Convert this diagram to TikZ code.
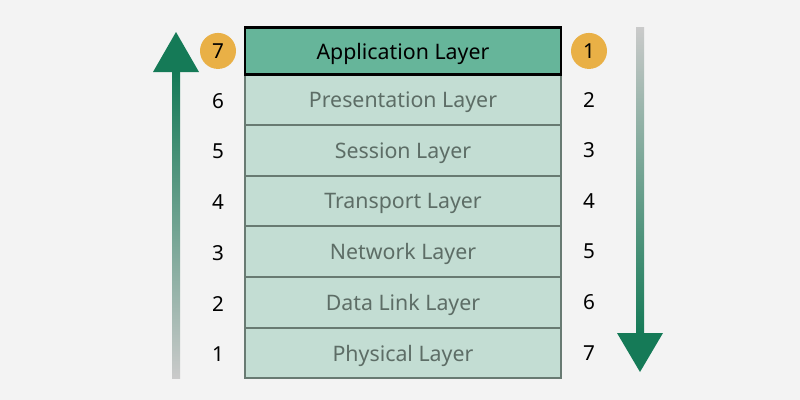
\documentclass[tikz,border=0pt]{standalone}
\usepackage{fontspec}
\setmainfont{Noto Sans}
\usetikzlibrary{positioning}
\definecolor{bgcol}{HTML}{F3F3F3}
\definecolor{appgreen}{HTML}{66B59A}
\definecolor{layerfill}{HTML}{C3DDD3}
\definecolor{layerline}{HTML}{687A72}
\definecolor{layertext}{HTML}{5D6D66}
\definecolor{arrowgreen}{HTML}{157A57}
\definecolor{fadegrey}{HTML}{CACACA}
\definecolor{badgeorange}{HTML}{E9B046}
\tikzset{
  layerbox/.style={rectangle,draw=layerline,line width=1.5pt,fill=layerfill,text=layertext,
    minimum width=237pt,minimum height=38pt,outer sep=0pt,text depth=0pt,
    font=\fontsize{16}{19}\selectfont},
  appbox/.style={layerbox,draw=black,line width=2.2pt,fill=appgreen,text=black,minimum height=35pt},
  num/.style={font=\fontsize{15.5}{18}\selectfont},
  badge/.style={num,circle,fill=badgeorange,minimum size=27pt,inner sep=0pt}
}
\begin{document}
\begin{tikzpicture}[x=0.75pt,y=-0.75pt,node distance=0pt]
\fill [bgcol] (0,0) rectangle (800,400);
\node [layerbox] (pres) at (403,99.6) {Presentation Layer};
\node [layerbox] (sess) [below=of pres] {Session Layer};
\node [layerbox] (trans) [below=of sess] {Transport Layer};
\node [layerbox] (net) [below=of trans] {Network Layer};
\node [layerbox] (link) [below=of net] {Data Link Layer};
\node [layerbox] (phys) [below=of link] {Physical Layer};
\node [appbox] (app) [above=of pres] {Application Layer};
% numbering on both sides
\node [badge] (up7) at ([xshift=-20.25pt]app.west) {7};
\node [badge] (down1) at ([xshift=21pt]app.east) {1};
\foreach \layer/\up/\down in {pres/6/2,sess/5/3,trans/4/4,net/3/5,link/2/6,phys/1/7}
  {
  \node [num] (up\up) at ([xshift=-20.25pt,yshift=-1pt]\layer.west) {\up};
  \node [num] (down\down) at ([xshift=21pt]\layer.east) {\down};
  }
% direction arrows
\shade [top color=arrowgreen,bottom color=fadegrey] (172,72) rectangle (180,378);
\fill [arrowgreen] (153,72) -- (176,32) -- (199,72) -- cycle;
\shade [top color=fadegrey,bottom color=arrowgreen] (636,27) rectangle (644,333);
\fill [arrowgreen] (617,333) -- (640,372) -- (663,333) -- cycle;
\end{tikzpicture}
\end{document}
